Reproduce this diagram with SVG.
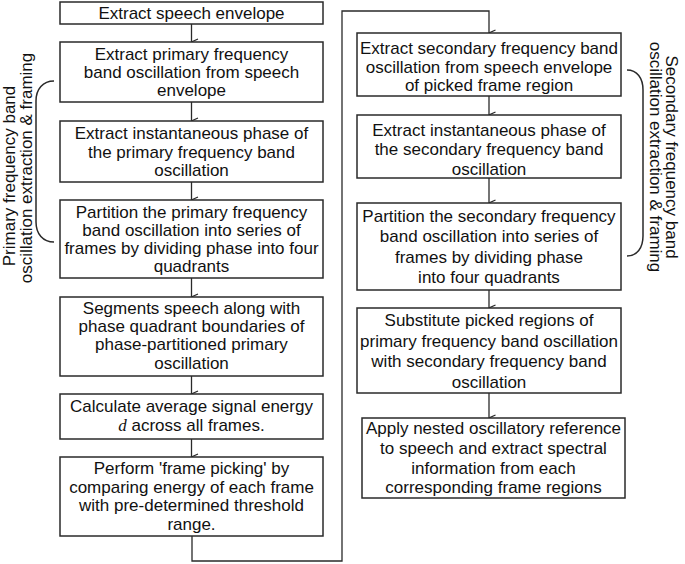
<svg xmlns="http://www.w3.org/2000/svg" width="685" height="564" viewBox="0 0 685 564">
<defs>
<style>
.box{fill:#fff;stroke:#2a2a2a;stroke-width:1.5}
.t{font-family:"Liberation Sans",Arial,sans-serif;font-size:17px;fill:#111;text-anchor:middle}
.c{fill:none;stroke:#2a2a2a;stroke-width:1.3}
.br{fill:none;stroke:#2a2a2a;stroke-width:1.5}
</style>
<marker id="ah" viewBox="0 0 8 8" markerWidth="8" markerHeight="8" refX="4" refY="7.5" orient="auto" markerUnits="userSpaceOnUse">
<path d="M1,1 L4,7.5 L7,1" fill="none" stroke="#2a2a2a" stroke-width="1.2"/>
</marker>
</defs>
<rect width="685" height="564" fill="#fff"/>

<g id="connectors">
<line class="c" x1="191.5" y1="24" x2="191.5" y2="42" marker-end="url(#ah)"/>
<line class="c" x1="191.5" y1="102" x2="191.5" y2="121" marker-end="url(#ah)"/>
<line class="c" x1="191.5" y1="182" x2="191.5" y2="200" marker-end="url(#ah)"/>
<line class="c" x1="191.5" y1="278" x2="191.5" y2="297" marker-end="url(#ah)"/>
<line class="c" x1="191.5" y1="376" x2="191.5" y2="394" marker-end="url(#ah)"/>
<line class="c" x1="191.5" y1="439" x2="191.5" y2="457" marker-end="url(#ah)"/>
<polyline class="c" points="192,536 192,561 342,561 342,11 489,11 489,33" marker-end="url(#ah)"/>
<line class="c" x1="489" y1="96" x2="489" y2="115" marker-end="url(#ah)"/>
<line class="c" x1="489" y1="178" x2="489" y2="203" marker-end="url(#ah)"/>
<line class="c" x1="489" y1="290" x2="489" y2="308" marker-end="url(#ah)"/>
<line class="c" x1="489" y1="393" x2="489" y2="418" marker-end="url(#ah)"/>
</g>

<g id="n1"><rect class="box" x="60" y="2" width="263" height="22"/>
<text class="t" x="191.5" y="19">Extract speech envelope</text></g>

<g id="n2"><rect class="box" x="60" y="42" width="263" height="60"/>
<text class="t" x="191.5" y="60">Extract primary frequency</text>
<text class="t" x="191.5" y="78">band oscillation from speech</text>
<text class="t" x="191.5" y="96">envelope</text></g>

<g id="n3"><rect class="box" x="60" y="121" width="263" height="61"/>
<text class="t" x="191.5" y="139">Extract instantaneous phase of</text>
<text class="t" x="191.5" y="157.5">the primary frequency band</text>
<text class="t" x="191.5" y="176">oscillation</text></g>

<g id="n4"><rect class="box" x="60" y="200" width="263" height="78"/>
<text class="t" x="191.5" y="217.5">Partition the primary frequency</text>
<text class="t" x="191.5" y="235.5">band oscillation into series of</text>
<text class="t" x="191.5" y="253.5">frames by dividing phase into four</text>
<text class="t" x="191.5" y="271.5">quadrants</text></g>

<g id="n5"><rect class="box" x="60" y="297" width="263" height="79"/>
<text class="t" x="191.5" y="314">Segments speech along with</text>
<text class="t" x="191.5" y="332">phase quadrant boundaries of</text>
<text class="t" x="191.5" y="350">phase-partitioned primary</text>
<text class="t" x="191.5" y="368.5">oscillation</text></g>

<g id="n6"><rect class="box" x="60" y="394" width="263" height="45"/>
<text class="t" x="191.5" y="412">Calculate average signal energy</text>
<text class="t" x="191.5" y="431"><tspan font-family="'Liberation Serif',serif" font-style="italic">d</tspan> across all frames.</text></g>

<g id="n7"><rect class="box" x="60" y="457" width="263" height="79"/>
<text class="t" x="191.5" y="474">Perform 'frame picking' by</text>
<text class="t" x="191.5" y="492.5">comparing energy of each frame</text>
<text class="t" x="191.5" y="511">with pre-determined threshold</text>
<text class="t" x="191.5" y="529.5">range.</text></g>

<g id="n8"><rect class="box" x="357" y="33" width="264" height="63"/>
<text class="t" x="489" y="54">Extract secondary frequency band</text>
<text class="t" x="489" y="72.5">oscillation from speech envelope</text>
<text class="t" x="489" y="91">of picked frame region</text></g>

<g id="n9"><rect class="box" x="357" y="115" width="264" height="63"/>
<text class="t" x="489" y="135.5">Extract instantaneous phase of</text>
<text class="t" x="489" y="155">the secondary frequency band</text>
<text class="t" x="489" y="174.5">oscillation</text></g>

<g id="n10"><rect class="box" x="357" y="203" width="264" height="87"/>
<text class="t" x="489" y="222">Partition the secondary frequency</text>
<text class="t" x="489" y="242.3">band oscillation into series of</text>
<text class="t" x="489" y="262.6">frames by dividing phase</text>
<text class="t" x="489" y="283">into four quadrants</text></g>

<g id="n11"><rect class="box" x="357" y="308" width="264" height="85"/>
<text class="t" x="489" y="326">Substitute picked regions of</text>
<text class="t" x="489" y="346.5">primary frequency band oscillation</text>
<text class="t" x="489" y="367">with secondary frequency band</text>
<text class="t" x="489" y="387.5">oscillation</text></g>

<g id="n12"><rect class="box" x="362" y="418" width="263" height="80"/>
<text class="t" x="493.5" y="434">Apply nested oscillatory reference</text>
<text class="t" x="493.5" y="453.8">to speech and extract spectral</text>
<text class="t" x="493.5" y="473.6">information from each</text>
<text class="t" x="493.5" y="493.4">corresponding frame regions</text></g>

<g id="primary-label">
<path class="br" d="M54,81 C43,81 36,89 36,101 V222 C36,234 43,242 54,242"/>
<text class="t" transform="translate(15,176) rotate(-90)">Primary frequency band</text>
<text class="t" transform="translate(32,168) rotate(-90)">oscillation extraction &amp; framing</text>
</g>

<g id="secondary-label">
<path class="br" d="M627,70 C637,70 643,78 643,90 V236 C643,248 637,256 627,256"/>
<text class="t" transform="translate(666,157) rotate(90)">Secondary frequency band</text>
<text class="t" transform="translate(650,157) rotate(90)">oscillation extraction &amp; framing</text>
</g>
</svg>
